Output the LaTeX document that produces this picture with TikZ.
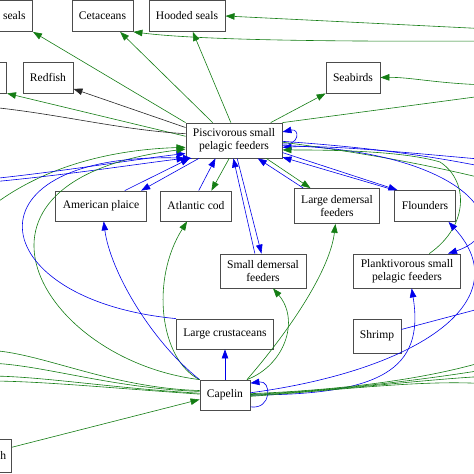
\documentclass[tikz,border=0pt]{standalone}
\usepackage{fontspec}
\setmainfont{Liberation Serif}
\usetikzlibrary{arrows.meta}
\definecolor{edgegreen}{RGB}{20,125,20}
\definecolor{edgeblue}{RGB}{0,0,235}
\begin{document}
\begin{tikzpicture}[x=1pt,y=-1pt,
  every node/.style={rectangle,draw=black!70,line width=0.8pt,fill=white,
    font=\fontsize{11.6}{13.4}\selectfont,align=center,
    inner xsep=7pt,inner ysep=4pt,minimum height=31pt},
  tall/.style={minimum height=35pt},
  >={Triangle[length=9pt,width=6.5pt]},
  gr/.style={->,edgegreen,line width=0.6pt},
  bl/.style={->,edgeblue,line width=0.6pt},
  bk/.style={->,black!85,line width=0.6pt}]
\fill[white] (0,0) rectangle (474,474);
\useasboundingbox (0,0) rectangle (474,474);
% nodes
\node[anchor=east,text width=50pt,align=right] (harp) at (33,16) {seals};
\node (ceta) at (102.5,16) {Cetaceans};
\node (hood) at (187,16) {Hooded seals};
\node[anchor=east,minimum width=50pt] (unk) at (7,77.5) {};
\node (redf) at (48,77.5) {Redfish};
\node (seab) at (353,77.5) {Seabirds};
\node[tall] (pisc) at (234,140.5) {Piscivorous small\\pelagic feeders};
\node[minimum height=30pt] (plaice) at (101,206) {American plaice};
\node[minimum height=30pt] (cod) at (196,206) {Atlantic cod};
\node[tall] (ldem) at (337,206) {Large demersal\\feeders};
\node (flou) at (425,206) {Flounders};
\node[minimum height=34pt] (sdem) at (263,271) {Small demersal\\feeders};
\node[minimum height=34pt] (plank) at (407,271) {Planktivorous small\\pelagic feeders};
\node[minimum height=30pt] (lcru) at (225,334) {Large crustaceans};
\node[minimum height=34pt] (shri) at (377,336) {Shrimp};
\node[minimum height=30pt] (cape) at (225,395) {Capelin};
\node[anchor=east,text width=50pt,align=right,inner xsep=5.5pt,minimum height=33pt] (bot) at (12,455.5) {h};
% ends outside the frame
\coordinate (l-black) at (-20,106);
\coordinate (l-blue1) at (-20,180);
\coordinate (l-blue2) at (-20,183);
\coordinate (l-green) at (-20,216);
\coordinate (r-hood) at (490,29);
\coordinate (r-ceta) at (490,41);
\coordinate (r-seab) at (490,85);
\coordinate (r-top) at (490,95);
\coordinate (r-blue) at (490,160);
\coordinate (r-blue2) at (490,168);
\coordinate (r-green) at (490,180);
\coordinate (r-shri) at (490,306);
\foreach \i/\y in {1/350,2/363,3/376,4/381}
  \coordinate (wl-\i) at (-20,\y);
\foreach \i/\y in {1/360,2/369,3/376,4/384}
  \coordinate (wr-\i) at (490,\y);
% top
\draw[gr] (r-hood) -- (hood.east);
\draw[gr] (r-ceta) .. controls (300,42) and (190,39) .. (ceta.south east);
\draw[gr] (pisc.100) -- (hood.-70);
\draw[gr] (pisc.140) -- (ceta.-42);
\draw[gr] (pisc.north west) -- (harp.south east);
\draw[bk] (pisc.165) -- (redf.-24);
\draw[gr] (pisc.175) -- (unk.south east);
\draw[bk] (pisc.172) .. controls (120,130) and (60,114) .. (l-black);
\draw[gr] (pisc.26) -- (seab.south west);
\draw[gr] (pisc.north east) -- (r-top);
\draw[gr] (r-seab) .. controls (440,84) and (410,77) .. (seab.east);
% left side into pisc
\draw[gr] (l-green) .. controls (30,172) and (100,150) .. (pisc.188);
\draw[bl] (l-blue1) .. controls (60,172) and (130,160) .. (pisc.195);
\draw[bl] (l-blue2) .. controls (60,176) and (130,165) .. (pisc.200);
% pisc and its neighbours
\draw[bl] (pisc.207) -- (plaice.21);
\draw[bl] (plaice.33) -- (pisc.-158);
\draw[bl] (cod.80) -- (pisc.-136);
\draw[gr] (pisc.-105) -- (cod.45);
\draw[bl] (pisc.-80) -- (sdem.95);
\draw[bl] (sdem.115) -- (pisc.-92);
\draw[gr] (pisc.-29) -- (ldem.146);
\draw[bl] (ldem.152) -- (pisc.-37);
\draw[bl] (pisc.-14) -- (flou.150);
\draw[bl] (flou.north west) -- (pisc.-19);
\draw[bl] (pisc.-4) .. controls (300,146) and (300,128) .. (pisc.10);
% right side
\draw[bl] (r-blue) .. controls (400,152) and (330,145) .. (pisc.-8);
\draw[bl] (pisc.-1) .. controls (380,148) and (440,158) .. (r-blue2);
\draw[gr] (pisc.-2) .. controls (380,155) and (440,168) .. (r-green);
\draw[bl] (pisc.-6) .. controls (470,150) and (520,230) .. (plank.23);
\draw[gr] (plank.38) .. controls (470,225) and (468,180) .. (440,162)
  .. controls (400,150) and (320,150) .. (pisc.-11);
% capelin
\draw[bl] (cape.north) -- (lcru.south);
\draw[bl] (cape.-25) .. controls (272,410) and (272,380) .. (cape.25);
\draw[gr] (cape.north west) .. controls (160,360) and (150,280) .. (cod.-120);
\draw[bl] (cape.north west) .. controls (150,340) and (110,270) .. (plaice.-80);
\draw[gr] (cape.north west) .. controls (40,360) and (-65,180) .. (pisc.190);
\draw[bl] (lcru.north west) .. controls (-20,300) and (-40,150) .. (pisc.203);
\draw[gr] (cape.35) .. controls (285,365) and (300,320) .. (sdem.-60);
\draw[gr] (cape.35) .. controls (290,330) and (330,270) .. (ldem.-95);
\draw[bl] (cape.east) .. controls (380,395) and (425,370) .. (plank.-75);
\draw[bl] (cape.5) .. controls (420,370) and (520,300) .. (flou.-34);
\draw[gr] (bot.15) -- (cape.-170);
\draw[bl] (shri.15) -- (r-shri);
\foreach \i/\a/\y in {1/170/352,2/172/364,3/176/376,4/178/381}
  \draw[gr] (cape.\a) .. controls (110,388) and (40,\y) .. (wl-\i);
\foreach \i/\a in {1/3,2/1,3/-1,4/-3}
  \draw[gr] (cape.\a) .. controls (340,390) and (420,380) .. (wr-\i);
\end{tikzpicture}
\end{document}
